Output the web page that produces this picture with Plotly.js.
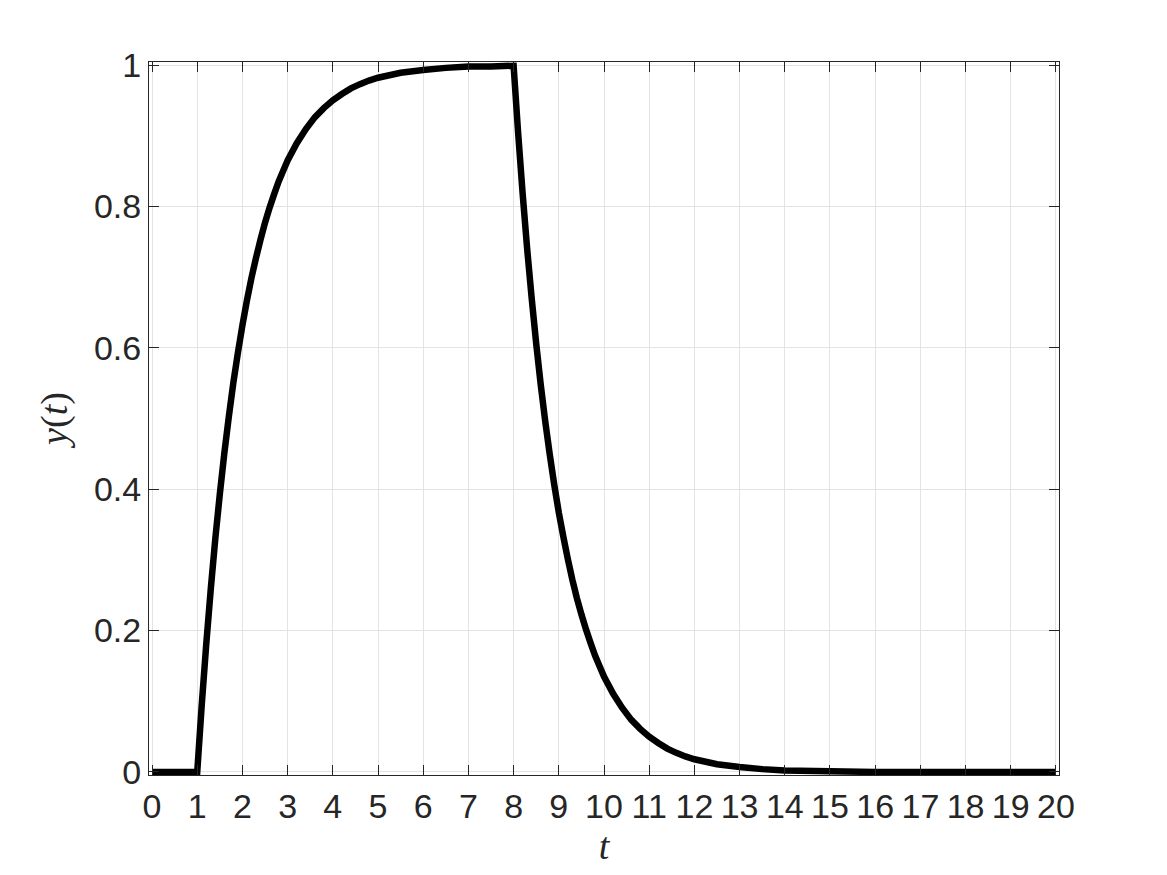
<!DOCTYPE html>
<html>
<head>
<meta charset="utf-8">
<script src="https://cdn.plot.ly/plotly-3.0.1.min.js"></script>
<style>
  html, body { margin: 0; padding: 0; background: #ffffff; }
  #chart { width: 1167px; height: 875px; }
</style>
</head>
<body>
<div id="chart"></div>
<script>
// time samples and response
var t_values = [
	0, 1,
	1.1, 1.2, 1.3, 1.4, 1.5, 1.6, 1.7, 1.8, 1.9, 2,
	2.1, 2.2, 2.3, 2.4, 2.5, 2.6, 2.7, 2.8, 2.9, 3,
	3.2, 3.4, 3.6, 3.8, 4, 4.2, 4.4, 4.6, 4.8, 5,
	5.5, 6, 6.5, 7, 7.5, 8,
	8.1, 8.2, 8.3, 8.4, 8.5, 8.6, 8.7, 8.8, 8.9, 9,
	9.1, 9.2, 9.3, 9.4, 9.5, 9.6, 9.7, 9.8, 9.9, 10,
	10.2, 10.4, 10.6, 10.8, 11, 11.2, 11.4, 11.6, 11.8, 12,
	12.5, 13, 13.5, 14, 15, 16, 17, 18, 19, 20
];
var y_values = [
	0, 0,
	0.095, 0.181, 0.259, 0.330, 0.393, 0.451, 0.503, 0.551, 0.593, 0.632,
	0.667, 0.699, 0.727, 0.753, 0.777, 0.798, 0.817, 0.835, 0.850, 0.865,
	0.889, 0.909, 0.926, 0.939, 0.950, 0.959, 0.967, 0.973, 0.978, 0.982,
	0.989, 0.993, 0.996, 0.998, 0.998, 0.999,
	0.904, 0.818, 0.740, 0.670, 0.606, 0.548, 0.496, 0.449, 0.406, 0.367,
	0.333, 0.301, 0.272, 0.246, 0.223, 0.202, 0.183, 0.165, 0.150, 0.135,
	0.111, 0.091, 0.074, 0.061, 0.050, 0.041, 0.033, 0.027, 0.022, 0.018,
	0.011, 0.007, 0.004, 0.002, 0.001, 0, 0, 0, 0, 0
];

var x_tickvals = [0, 1, 2, 3, 4, 5, 6, 7, 8, 9, 10, 11, 12, 13, 14, 15, 16, 17, 18, 19, 20];
var x_ticktext = ['0', '1', '2', '3', '4', '5', '6', '7', '8', '9', '10', '11', '12', '13', '14', '15', '16', '17', '18', '19', '20'];
var y_tickvals = [0, 0.2, 0.4, 0.6, 0.8, 1];
var y_ticktext = ['0', '0.2', '0.4', '0.6', '0.8', '1'];

var axis_colour = '#262626';
var grid_colour = '#e3e3e3';

var response = {
	x: t_values,
	y: y_values,
	type: 'scatter',
	mode: 'lines',
	line: {
		color: '#000000',
		width: 6.5,
		simplify: false
	},
	hoverinfo: 'skip'
};

// ranges padded by ~3px so the thick line at y = 0 is not cut in half
var layout = {
	width: 1167,
	height: 875,
	margin: { l: 149, r: 108, t: 62, b: 100 },
	paper_bgcolor: '#ffffff',
	plot_bgcolor: '#ffffff',
	showlegend: false,
	font: {
		family: '"Liberation Sans", Arial, sans-serif',
		size: 34,
		color: axis_colour
	},
	xaxis: {
		range: [-0.067, 20.067],
		tickmode: 'array',
		tickvals: x_tickvals,
		ticktext: x_ticktext,
		ticks: 'inside',
		ticklen: 10,
		tickwidth: 1,
		tickcolor: axis_colour,
		ticklabelstandoff: 1,
		showline: true,
		linecolor: axis_colour,
		linewidth: 1,
		mirror: 'ticks',
		showgrid: true,
		gridcolor: grid_colour,
		gridwidth: 1,
		zeroline: false,
		automargin: false,
		title: {
			text: '<i>t</i>',
			font: { family: '"Liberation Serif", "DejaVu Serif", serif', size: 38, color: axis_colour },
			standoff: 7
		}
	},
	yaxis: {
		range: [-0.0043, 1.0043],
		tickmode: 'array',
		tickvals: y_tickvals,
		ticktext: y_ticktext,
		ticks: 'inside',
		ticklen: 10,
		tickwidth: 1,
		tickcolor: axis_colour,
		ticklabelstandoff: 0,
		showline: true,
		linecolor: axis_colour,
		linewidth: 1,
		mirror: 'ticks',
		showgrid: true,
		gridcolor: grid_colour,
		gridwidth: 1,
		zeroline: false,
		automargin: false,
		title: {
			text: '<i>y</i>(<i>t</i>)',
			font: { family: '"Liberation Serif", "DejaVu Serif", serif', size: 38, color: axis_colour },
			standoff: 14
		}
	}
};

var config = {
	displayModeBar: false,
	staticPlot: true
};

Plotly.newPlot('chart', [response], layout, config);
</script>
</body>
</html>
